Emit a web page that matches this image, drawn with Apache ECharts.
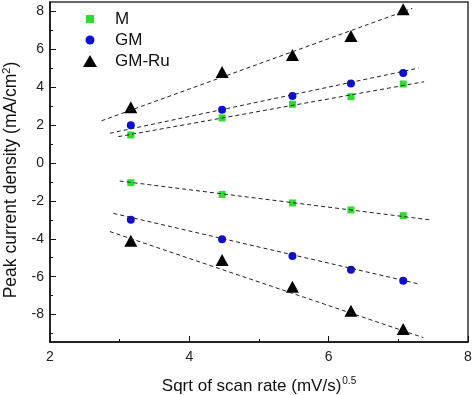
<!DOCTYPE html>
<html><head><meta charset="utf-8">
<script src="https://cdn.jsdelivr.net/npm/echarts@6/dist/echarts.min.js"></script>
<style>html,body{margin:0;padding:0;background:#fff}#c{width:474px;height:395px}</style>
</head><body><div id="c"></div>
<script>
const xVals = [3.16, 4.47, 5.48, 6.32, 7.07];
const mPos  = [1.48, 2.38, 3.10, 3.50, 4.17];
const gmPos = [1.99, 2.81, 3.54, 4.20, 4.75];
const ruPos = [2.95, 4.80, 5.70, 6.70, 8.12];
const mNeg  = [-1.04, -1.66, -2.11, -2.48, -2.78];
const gmNeg = [-2.99, -4.03, -4.91, -5.63, -6.21];
const ruNeg = [-4.10, -5.12, -6.53, -7.80, -8.76];

// dashed fit lines: endpoints [x0, x1], [y0, y1]
const mPosFitX = [2.98, 7.37],  mPosFitY = [1.39, 4.29];
const gmPosFitX = [2.86, 7.29], gmPosFitY = [1.57, 5.01];
const ruPosFitX = [2.74, 7.20], ruPosFitY = [2.23, 8.16];
const mNegFitX = [3.00, 7.47],  mNegFitY = [-0.95, -3.01];
const gmNegFitX = [2.91, 7.31], gmNegFitY = [-2.66, -6.40];
const ruNegFitX = [2.86, 7.36], ruNegFitY = [-3.62, -9.22];

const yMajor = [-8, -6, -4, -2, 0, 2, 4, 6, 8];
const yMinor = [-9, -7, -5, -3, -1, 1, 3, 5, 7];
const xTicks = [2, 4, 6, 8];

const names = ['M', 'GM', 'GM-Ru'];
const colors = ['#2ddd2d', '#0e0ed6', '#000000'];

const zip = (xs, ys) => xs.map((x, i) => [x, ys[i]]);
const FONT = 'Liberation Sans, Arial, sans-serif';

const chart = echarts.init(document.getElementById('c'), null, {renderer: 'canvas'});

function scat(name, ys, color, symbol, size) {
  return {type: 'scatter', name, data: zip(xVals, ys), symbol, symbolSize: size,
    itemStyle: {color, opacity: 1}, z: 2, silent: true};
}
function fit(xs, ys) {
  return {type: 'line', data: zip(xs, ys), symbol: 'none', silent: true, z: 3,
    lineStyle: {color: '#222', width: 1, type: [4, 3]}};
}

function leg(name, icon, w, h, left, top, pad) {
  return {data: [{name, icon}], orient: 'vertical', left, top, padding: 0,
    itemWidth: w, itemHeight: h, selectedMode: false,
    textStyle: {fontFamily: FONT, fontSize: 17, color: '#111', padding: [0, 0, 0, pad], lineHeight: 18}};
}

chart.setOption({
  animation: false,
  grid: {left: 50, right: 6, top: 2, bottom: 53, show: true, borderColor: '#333', borderWidth: 1.5,
    outerBoundsMode: 'none', containLabel: false},
  legend: [
    leg(names[0], 'rect', 8, 8, 86, 10, 16),
    leg(names[1], 'circle', 9, 9, 85.5, 31, 15.5),
    leg(names[2], 'triangle', 14, 12, 83, 52, 13)
  ],
  xAxis: {
    type: 'value', min: 2, max: 8, interval: 2,
    name: '{a|Sqrt of scan rate (mV/s)}{s|0.5}', nameLocation: 'middle', nameGap: 34,
    nameTextStyle: {rich: {
      a: {fontFamily: FONT, fontSize: 17, color: '#111'},
      s: {fontFamily: FONT, fontSize: 10, color: '#111', padding: [0, 0, 10, 1]}
    }},
    axisLine: {show: true, onZero: false, lineStyle: {color: '#111', width: 1.5}},
    axisTick: {show: true, inside: true, length: 6, lineStyle: {color: '#111', width: 1}},
    minorTick: {show: true, splitNumber: 2, length: 3, lineStyle: {color: '#111', width: 1}},
    axisLabel: {fontFamily: FONT, fontSize: 14, color: '#222', margin: 8,
      customValues: xTicks},
    splitLine: {show: false}
  },
  yAxis: [{
    type: 'value', min: -9.45, max: 8.5,
    name: '{a|Peak current density (mA/cm}{s|2}{a|)}', nameLocation: 'middle', nameGap: 28,
    nameRotate: 90,
    nameTextStyle: {padding: [0, 16, 0, 0], rich: {
      a: {fontFamily: FONT, fontSize: 17.5, color: '#111'},
      s: {fontFamily: FONT, fontSize: 11, color: '#111', padding: [0, 0, 10, 0]}
    }},
    axisLine: {show: true, onZero: false, lineStyle: {color: '#111', width: 1.5}},
    axisTick: {show: true, inside: true, length: 6, customValues: yMajor, lineStyle: {color: '#111', width: 1}},
    axisLabel: {fontFamily: FONT, fontSize: 14, color: '#222', margin: 6, customValues: yMajor},
    splitLine: {show: false}
  }, {
    type: 'value', min: -9.45, max: 8.5, position: 'left',
    axisLine: {show: false},
    axisTick: {show: true, inside: true, length: 3, customValues: yMinor, lineStyle: {color: '#111', width: 1}},
    axisLabel: {show: false},
    splitLine: {show: false}
  }],
  series: [
    scat(names[0], mPos, colors[0], 'rect', 7),
    scat(names[1], gmPos, colors[1], 'circle', 8),
    scat(names[2], ruPos, colors[2], 'triangle', [13, 12]),
    scat(names[0], mNeg, colors[0], 'rect', 7),
    scat(names[1], gmNeg, colors[1], 'circle', 8),
    scat(names[2], ruNeg, colors[2], 'triangle', [13, 12]),
    fit(mPosFitX, mPosFitY), fit(gmPosFitX, gmPosFitY), fit(ruPosFitX, ruPosFitY),
    fit(mNegFitX, mNegFitY), fit(gmNegFitX, gmNegFitY), fit(ruNegFitX, ruNegFitY)
  ]
});
</script></body></html>
